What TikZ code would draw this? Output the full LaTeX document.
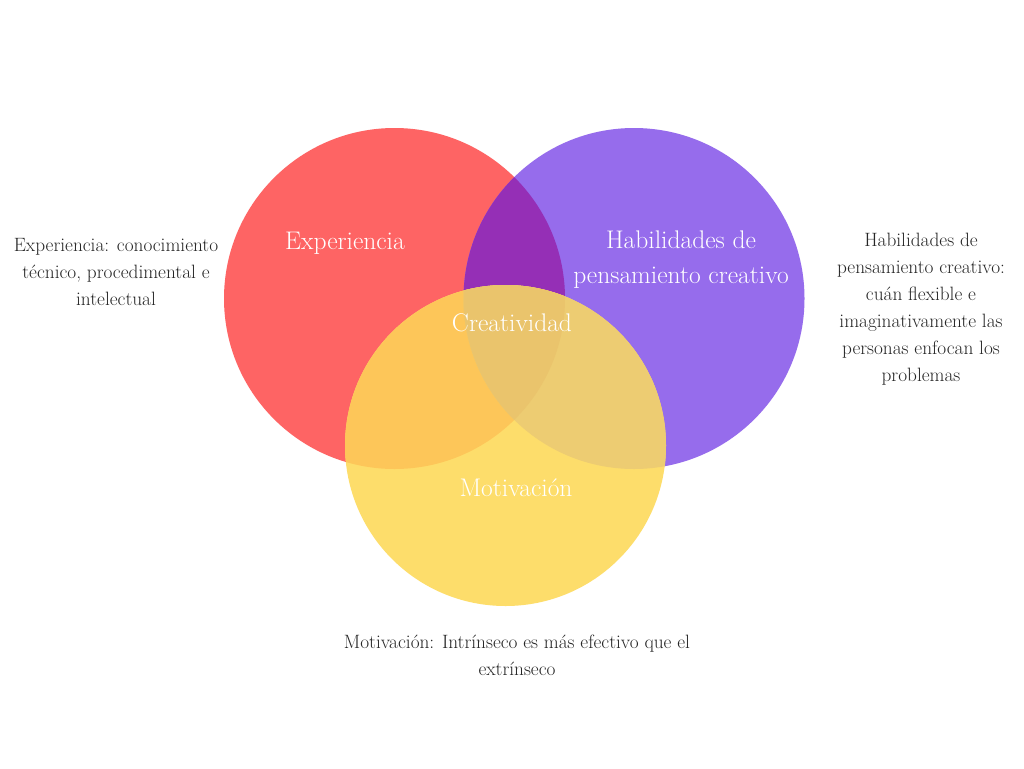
\documentclass[tikz,border=0pt]{standalone}
\usepackage{fontspec}
\definecolor{cred}{HTML}{FE6464}
\definecolor{cpur}{HTML}{966CEC}
\definecolor{clens}{HTML}{952FB6}
\definecolor{cyel}{HTML}{FDDD6B}
\definecolor{cyr}{HTML}{FDC659}
\definecolor{cyp}{HTML}{EDCC72}
\definecolor{cyrp}{HTML}{EAC46C}
\newcommand{\cirRed}{(394.5,298.5) circle[radius=170.5]}
\newcommand{\cirPur}{(634,298.5) circle[radius=170.5]}
\newcommand{\cirYel}{(505.5,445.5) circle[radius=160.5]}
\begin{document}
\begin{tikzpicture}[x=1pt,y=-1pt,
  innerlabel/.style={text=white,font=\fontsize{25.5}{35}\selectfont,align=center,inner sep=0pt},
  outerlabel/.style={text=black!85,font=\fontsize{19.3}{27}\selectfont,align=center,inner sep=0pt}]
\useasboundingbox (0,0) rectangle (1024,768);
\fill[white] (0,0) rectangle (1024,768);
\fill[cred] \cirRed;
\fill[cpur] \cirPur;
\begin{scope}
  \clip \cirRed;
  \fill[clens] \cirPur;
\end{scope}
\fill[cyel] \cirYel;
\begin{scope}
  \clip \cirYel;
  \fill[cyr] \cirRed;
  \fill[cyp] \cirPur;
  \clip \cirRed;
  \fill[cyrp] \cirPur;
\end{scope}
\node[innerlabel] (exp) at (345,243) {Experiencia};
\node[innerlabel] (hab) at (681,260) {Habilidades de\\pensamiento creativo};
\node[innerlabel] (cre) at (512,323) {Creatividad};
\node[innerlabel] (mot) at (516,488) {Motivación};
\node[outerlabel] (texp) at (116,272) {Experiencia: conocimiento\\técnico, procedimental e\\intelectual};
\node[outerlabel] (thab) at (921,309) {Habilidades de\\pensamiento creativo:\\cuán flexible e\\imaginativamente las\\personas enfocan los\\problemas};
\node[outerlabel] (tmot) at (517,655) {Motivación: Intrínseco es más efectivo que el\\extrínseco};
\end{tikzpicture}
\end{document}
